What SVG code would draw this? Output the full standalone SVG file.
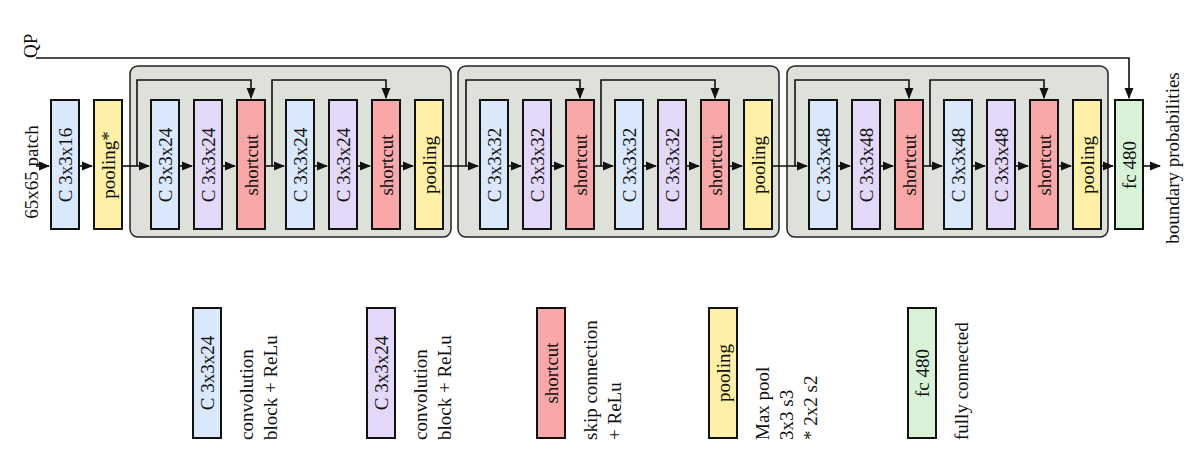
<svg xmlns="http://www.w3.org/2000/svg" width="1200" height="452" viewBox="0 0 1200 452">
<style>
text{font-family:"Liberation Serif",serif;font-size:19px;fill:#111}
.b{stroke:#111;stroke-width:2}
.cb{fill:#dae8fc}.cp{fill:#e4d8f8}.sc{fill:#f8a8a8}.pl{fill:#fff0a8}.fc{fill:#d8f2d8}
.g{fill:#dde1da;stroke:#222;stroke-width:1.5}
.l{fill:none;stroke:#111;stroke-width:1.6}
</style>
<defs><marker id="a" viewBox="0 0 10 10" refX="9" refY="5" markerWidth="7" markerHeight="7" orient="auto"><path d="M0,1 L10,5 L0,9 z" fill="#111"/></marker></defs>
<rect class="g" x="130" y="66" width="321" height="171" rx="8"/>
<rect class="g" x="458" y="66" width="321" height="171" rx="8"/>
<rect class="g" x="787" y="66" width="321" height="171" rx="8"/>
<g id="connectors">
<path class="l" d="M36,58 H1129 V98" marker-end="url(#a)"/>
<path class="l" d="M36,166 H49" marker-end="url(#a)"/>
<path class="l" d="M79,166 H92" marker-end="url(#a)"/>
<path class="l" d="M122,166 H149" marker-end="url(#a)"/>
<path class="l" d="M179,166 H192" marker-end="url(#a)"/>
<path class="l" d="M222,166 H235" marker-end="url(#a)"/>
<path class="l" d="M265,166 H284" marker-end="url(#a)"/>
<path class="l" d="M314,166 H327" marker-end="url(#a)"/>
<path class="l" d="M357,166 H370" marker-end="url(#a)"/>
<path class="l" d="M400,166 H413" marker-end="url(#a)"/>
<path class="l" d="M443,166 H478" marker-end="url(#a)"/>
<path class="l" d="M508,166 H521" marker-end="url(#a)"/>
<path class="l" d="M551,166 H564" marker-end="url(#a)"/>
<path class="l" d="M594,166 H613" marker-end="url(#a)"/>
<path class="l" d="M643,166 H656" marker-end="url(#a)"/>
<path class="l" d="M686,166 H699" marker-end="url(#a)"/>
<path class="l" d="M729,166 H742" marker-end="url(#a)"/>
<path class="l" d="M772,166 H807" marker-end="url(#a)"/>
<path class="l" d="M837,166 H850" marker-end="url(#a)"/>
<path class="l" d="M880,166 H893" marker-end="url(#a)"/>
<path class="l" d="M923,166 H942" marker-end="url(#a)"/>
<path class="l" d="M972,166 H985" marker-end="url(#a)"/>
<path class="l" d="M1015,166 H1028" marker-end="url(#a)"/>
<path class="l" d="M1058,166 H1071" marker-end="url(#a)"/>
<path class="l" d="M1101,166 H1113" marker-end="url(#a)"/>
<path class="l" d="M1143,166 H1160" marker-end="url(#a)"/>
<path class="l" d="M137,166 V80 H251 V98" marker-end="url(#a)"/>
<path class="l" d="M272,166 V80 H386 V98" marker-end="url(#a)"/>
<path class="l" d="M466,166 V80 H580 V98" marker-end="url(#a)"/>
<path class="l" d="M601,166 V80 H715 V98" marker-end="url(#a)"/>
<path class="l" d="M795,166 V80 H909 V98" marker-end="url(#a)"/>
<path class="l" d="M930,166 V80 H1044 V98" marker-end="url(#a)"/>
</g>
<g id="n0"><rect class="b cb" x="51" y="100" width="28" height="129"/><text transform="translate(65,165) rotate(-90)" text-anchor="middle" dominant-baseline="central">C 3x3x16</text></g>
<g id="n1"><rect class="b pl" x="94" y="100" width="28" height="129"/><text transform="translate(108,165) rotate(-90)" text-anchor="middle" dominant-baseline="central">pooling*</text></g>
<g id="n2"><rect class="b cb" x="151" y="100" width="28" height="129"/><text transform="translate(165,165) rotate(-90)" text-anchor="middle" dominant-baseline="central">C 3x3x24</text></g>
<g id="n3"><rect class="b cp" x="194" y="100" width="28" height="129"/><text transform="translate(208,165) rotate(-90)" text-anchor="middle" dominant-baseline="central">C 3x3x24</text></g>
<g id="n4"><rect class="b sc" x="237" y="100" width="28" height="129"/><text transform="translate(251,165) rotate(-90)" text-anchor="middle" dominant-baseline="central">shortcut</text></g>
<g id="n5"><rect class="b cb" x="286" y="100" width="28" height="129"/><text transform="translate(300,165) rotate(-90)" text-anchor="middle" dominant-baseline="central">C 3x3x24</text></g>
<g id="n6"><rect class="b cp" x="329" y="100" width="28" height="129"/><text transform="translate(343,165) rotate(-90)" text-anchor="middle" dominant-baseline="central">C 3x3x24</text></g>
<g id="n7"><rect class="b sc" x="372" y="100" width="28" height="129"/><text transform="translate(386,165) rotate(-90)" text-anchor="middle" dominant-baseline="central">shortcut</text></g>
<g id="n8"><rect class="b pl" x="415" y="100" width="28" height="129"/><text transform="translate(429,165) rotate(-90)" text-anchor="middle" dominant-baseline="central">pooling</text></g>
<g id="n9"><rect class="b cb" x="480" y="100" width="28" height="129"/><text transform="translate(494,165) rotate(-90)" text-anchor="middle" dominant-baseline="central">C 3x3x32</text></g>
<g id="n10"><rect class="b cp" x="523" y="100" width="28" height="129"/><text transform="translate(537,165) rotate(-90)" text-anchor="middle" dominant-baseline="central">C 3x3x32</text></g>
<g id="n11"><rect class="b sc" x="566" y="100" width="28" height="129"/><text transform="translate(580,165) rotate(-90)" text-anchor="middle" dominant-baseline="central">shortcut</text></g>
<g id="n12"><rect class="b cb" x="615" y="100" width="28" height="129"/><text transform="translate(629,165) rotate(-90)" text-anchor="middle" dominant-baseline="central">C 3x3x32</text></g>
<g id="n13"><rect class="b cp" x="658" y="100" width="28" height="129"/><text transform="translate(672,165) rotate(-90)" text-anchor="middle" dominant-baseline="central">C 3x3x32</text></g>
<g id="n14"><rect class="b sc" x="701" y="100" width="28" height="129"/><text transform="translate(715,165) rotate(-90)" text-anchor="middle" dominant-baseline="central">shortcut</text></g>
<g id="n15"><rect class="b pl" x="744" y="100" width="28" height="129"/><text transform="translate(758,165) rotate(-90)" text-anchor="middle" dominant-baseline="central">pooling</text></g>
<g id="n16"><rect class="b cb" x="809" y="100" width="28" height="129"/><text transform="translate(823,165) rotate(-90)" text-anchor="middle" dominant-baseline="central">C 3x3x48</text></g>
<g id="n17"><rect class="b cp" x="852" y="100" width="28" height="129"/><text transform="translate(866,165) rotate(-90)" text-anchor="middle" dominant-baseline="central">C 3x3x48</text></g>
<g id="n18"><rect class="b sc" x="895" y="100" width="28" height="129"/><text transform="translate(909,165) rotate(-90)" text-anchor="middle" dominant-baseline="central">shortcut</text></g>
<g id="n19"><rect class="b cb" x="944" y="100" width="28" height="129"/><text transform="translate(958,165) rotate(-90)" text-anchor="middle" dominant-baseline="central">C 3x3x48</text></g>
<g id="n20"><rect class="b cp" x="987" y="100" width="28" height="129"/><text transform="translate(1001,165) rotate(-90)" text-anchor="middle" dominant-baseline="central">C 3x3x48</text></g>
<g id="n21"><rect class="b sc" x="1030" y="100" width="28" height="129"/><text transform="translate(1044,165) rotate(-90)" text-anchor="middle" dominant-baseline="central">shortcut</text></g>
<g id="n22"><rect class="b pl" x="1073" y="100" width="28" height="129"/><text transform="translate(1087,165) rotate(-90)" text-anchor="middle" dominant-baseline="central">pooling</text></g>
<g id="n23"><rect class="b fc" x="1115" y="100" width="28" height="129"/><text transform="translate(1129,165) rotate(-90)" text-anchor="middle" dominant-baseline="central">fc 480</text></g>
<text transform="translate(31,172) rotate(-90)" text-anchor="middle" dominant-baseline="central">65x65 patch</text>
<text transform="translate(30,58) rotate(-90)" text-anchor="start" dominant-baseline="central">QP</text>
<text transform="translate(1172,158) rotate(-90)" text-anchor="middle" dominant-baseline="central">boundary probabilities</text>
<g id="legend">
<g id="lg1"><rect class="b cb" x="193" y="308" width="28" height="130"/><text transform="translate(207,373) rotate(-90)" text-anchor="middle" dominant-baseline="central">C 3x3x24</text>
<text transform="translate(253,440) rotate(-90)">convolution</text><text transform="translate(277,440) rotate(-90)">block + ReLu</text></g>
<g id="lg2"><rect class="b cp" x="367" y="308" width="28" height="130"/><text transform="translate(381,373) rotate(-90)" text-anchor="middle" dominant-baseline="central">C 3x3x24</text>
<text transform="translate(427,440) rotate(-90)">convolution</text><text transform="translate(451,440) rotate(-90)">block + ReLu</text></g>
<g id="lg3"><rect class="b sc" x="537" y="308" width="28" height="130"/><text transform="translate(551,373) rotate(-90)" text-anchor="middle" dominant-baseline="central">shortcut</text>
<text transform="translate(597,440) rotate(-90)">skip connection</text><text transform="translate(621,440) rotate(-90)">+ ReLu</text></g>
<g id="lg4"><rect class="b pl" x="709" y="308" width="28" height="130"/><text transform="translate(723,373) rotate(-90)" text-anchor="middle" dominant-baseline="central">pooling</text>
<text transform="translate(769,440) rotate(-90)">Max pool</text><text transform="translate(793,440) rotate(-90)">3x3 s3</text><text transform="translate(817,440) rotate(-90)">* 2x2 s2</text></g>
<g id="lg5"><rect class="b fc" x="908" y="308" width="28" height="130"/><text transform="translate(922,373) rotate(-90)" text-anchor="middle" dominant-baseline="central">fc 480</text>
<text transform="translate(968,440) rotate(-90)">fully connected</text></g>
</g>
</svg>
